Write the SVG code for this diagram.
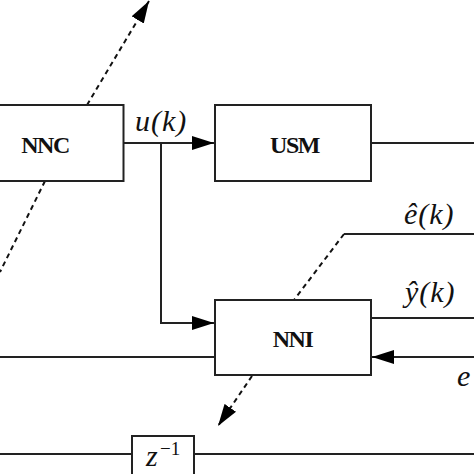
<svg xmlns="http://www.w3.org/2000/svg" width="474" height="474" viewBox="0 0 474 474">
<style>
.box{fill:#fff;stroke:#222;stroke-width:2}
.ln{fill:none;stroke:#222;stroke-width:2}
.dash{fill:none;stroke:#111;stroke-width:2;stroke-dasharray:5 4}
.lbl{font-family:'Liberation Serif','Times New Roman',serif;font-weight:bold;font-size:24px;fill:#111;text-anchor:middle;letter-spacing:-1.5px}
.math{font-family:'Liberation Serif','Times New Roman',serif;font-style:italic;font-size:30px;fill:#111;letter-spacing:1px}
</style>
<defs>
<marker id="arr" markerUnits="userSpaceOnUse" markerWidth="23" markerHeight="15" refX="22" refY="7" orient="auto">
<path d="M0,0 L22,7 L0,14 z" fill="#000"/>
</marker>
</defs>
<rect width="474" height="474" fill="#fff"/>
<g id="connectors">
<path class="ln" d="M123.5,143 H214" marker-end="url(#arr)"/>
<path class="ln" d="M161,143 V323 H214" marker-end="url(#arr)"/>
<path class="ln" d="M371,143 H474"/>
<path class="ln" d="M344,234 H474"/>
<path class="dash" d="M344,234 L294,300"/>
<path class="dash" d="M252,376 L218,426" marker-end="url(#arr)"/>
<path class="ln" d="M371,318 H474"/>
<path class="ln" d="M474,357 H372" marker-end="url(#arr)"/>
<path class="ln" d="M0,357 H215"/>
<path class="ln" d="M0,454 H132"/>
<path class="ln" d="M194,454 H474"/>
<path class="dash" d="M87,105 L149,1" marker-end="url(#arr)"/>
<path class="dash" d="M45,181 L0,272"/>
</g>
<g id="nnc">
<rect class="box" x="-5" y="105" width="128.5" height="76"/>
<text class="lbl" x="45" y="153">NNC</text>
</g>
<g id="usm">
<rect class="box" x="215" y="105" width="156" height="76"/>
<text class="lbl" x="294.5" y="153">USM</text>
</g>
<g id="nni">
<rect class="box" x="215" y="300" width="156" height="75"/>
<text class="lbl" x="292.5" y="347">NNI</text>
</g>
<g id="delay">
<rect class="box" x="132" y="436" width="62" height="45"/>
<text class="math" x="146" y="466" font-size="28" letter-spacing="0">z</text>
<text x="160" y="455" font-family="'Liberation Serif',serif" font-size="19" fill="#111">−1</text>
</g>
<g id="labels">
<text class="math" x="135" y="131">u(k)</text>
<text class="math" x="404" y="224">ê(k)</text>
<text class="math" x="405" y="302">ŷ(k)</text>
<text class="math" x="457" y="386">e</text>
</g>
</svg>
